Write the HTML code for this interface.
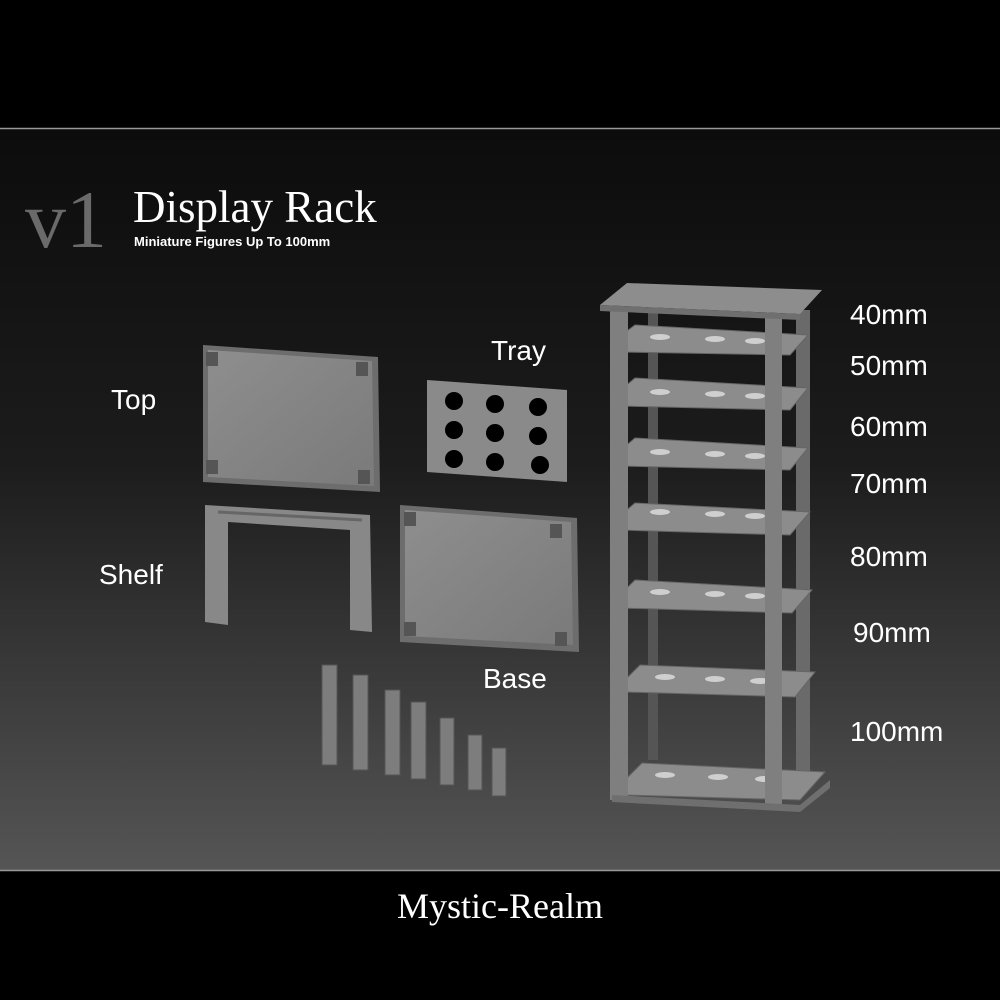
<!DOCTYPE html>
<html><head><meta charset="utf-8"><style>
html,body{margin:0;padding:0;background:#000;}
svg{display:block}
</style></head><body>
<svg width="1000" height="1000" viewBox="0 0 1000 1000" xmlns="http://www.w3.org/2000/svg">
<defs>
<linearGradient id="bg" x1="0" y1="0" x2="0" y2="1">
<stop offset="0" stop-color="#0c0c0c"/>
<stop offset="0.45" stop-color="#1c1c1c"/>
<stop offset="1" stop-color="#555"/>
</linearGradient>
<linearGradient id="pan" x1="0" y1="0" x2="1" y2="1">
<stop offset="0" stop-color="#8e8e8e"/>
<stop offset="1" stop-color="#7a7a7a"/>
</linearGradient>
</defs>
<rect width="1000" height="1000" fill="#000"/>
<rect x="0" y="129" width="1000" height="741" fill="url(#bg)"/>
<line x1="0" y1="128.5" x2="1000" y2="128.5" stroke="#999" stroke-width="1.5"/>
<line x1="0" y1="870.5" x2="1000" y2="870.5" stroke="#999" stroke-width="1.5"/>

<text x="25" y="247" font-family="Liberation Serif, serif" font-size="82" fill="#6a6a6a">v1</text>
<text x="133" y="222" font-family="Liberation Serif, serif" font-size="45" fill="#fff">Display Rack</text>
<text x="134" y="246" font-family="Liberation Sans, sans-serif" font-size="13" font-weight="bold" fill="#fff">Miniature Figures Up To 100mm</text>

<g font-family="Liberation Sans, sans-serif" font-size="28" fill="#fff">
<text x="111" y="409">Top</text>
<text x="491" y="360">Tray</text>
<text x="99" y="584">Shelf</text>
<text x="483" y="688">Base</text>
<text x="850" y="324">40mm</text>
<text x="850" y="375">50mm</text>
<text x="850" y="436">60mm</text>
<text x="850" y="493">70mm</text>
<text x="850" y="566">80mm</text>
<text x="853" y="642">90mm</text>
<text x="850" y="741">100mm</text>
</g>
<text x="500" y="918" text-anchor="middle" font-family="Liberation Serif, serif" font-size="36" fill="#fff">Mystic-Realm</text>

<!-- Top panel -->
<polygon points="203,345 378,357 380,492 203,482" fill="#6d6d6d"/>
<polygon points="208,350 372,361 374,486 208,477" fill="url(#pan)"/>
<g fill="#555"><rect x="206" y="352" width="12" height="14"/><rect x="356" y="362" width="12" height="14"/><rect x="206" y="460" width="12" height="14"/><rect x="358" y="470" width="12" height="14"/></g>

<!-- Tray -->
<polygon points="427,380 567,390 567,482 427,472" fill="#8a8a8a"/>
<g fill="#000">
<circle cx="454" cy="401" r="9"/><circle cx="495" cy="404" r="9"/><circle cx="538" cy="407" r="9"/>
<circle cx="454" cy="430" r="9"/><circle cx="495" cy="433" r="9"/><circle cx="538" cy="436" r="9"/>
<circle cx="454" cy="459" r="9"/><circle cx="495" cy="462" r="9"/><circle cx="540" cy="465" r="9"/>
</g>

<!-- Shelf frame -->
<path d="M205,505 L370,515 L372,632 L350,630 L350,530 L228,522 L228,625 L205,622 Z" fill="#888"/>
<path d="M218,512 L362,520" stroke="#666" stroke-width="3"/>

<!-- Base -->
<polygon points="400,505 577,518 579,652 400,642" fill="#6d6d6d"/>
<polygon points="405,510 571,522 573,645 405,636" fill="url(#pan)"/>
<g fill="#555"><rect x="404" y="512" width="12" height="14"/><rect x="550" y="524" width="12" height="14"/><rect x="404" y="622" width="12" height="14"/><rect x="555" y="632" width="12" height="14"/></g>

<!-- Posts -->
<g fill="#7d7d7d" stroke="#555" stroke-width="1">
<rect x="322" y="665" width="15" height="100"/>
<rect x="353" y="675" width="15" height="95"/>
<rect x="385" y="690" width="15" height="85"/>
<rect x="411" y="702" width="15" height="77"/>
<rect x="440" y="718" width="14" height="67"/>
<rect x="468" y="735" width="14" height="55"/>
<rect x="492" y="748" width="14" height="48"/>
</g>

<!-- Rack -->
<g>
<rect x="796" y="310" width="14" height="470" fill="#6a6a6a"/>
<rect x="648" y="300" width="10" height="460" fill="#555"/>
<g fill="#8c8c8c" stroke="#666">
<polygon points="615,340 635,325 808,335 790,355 620,352"/>
<polygon points="615,395 635,378 808,388 790,410 620,406"/>
<polygon points="615,455 635,438 808,448 790,470 620,466"/>
<polygon points="615,520 635,503 810,512 790,535 620,530"/>
<polygon points="615,600 635,580 812,590 792,613 620,608"/>
<polygon points="620,685 640,665 815,672 795,697 625,692"/>
<polygon points="620,785 642,763 825,772 800,800 625,795"/>
</g>
<g fill="#cfcfcf">
<ellipse cx="660" cy="337" rx="10" ry="3"/><ellipse cx="715" cy="339" rx="10" ry="3"/><ellipse cx="755" cy="341" rx="10" ry="3"/>
<ellipse cx="660" cy="392" rx="10" ry="3"/><ellipse cx="715" cy="394" rx="10" ry="3"/><ellipse cx="755" cy="396" rx="10" ry="3"/>
<ellipse cx="660" cy="452" rx="10" ry="3"/><ellipse cx="715" cy="454" rx="10" ry="3"/><ellipse cx="755" cy="456" rx="10" ry="3"/>
<ellipse cx="660" cy="512" rx="10" ry="3"/><ellipse cx="715" cy="514" rx="10" ry="3"/><ellipse cx="755" cy="516" rx="10" ry="3"/>
<ellipse cx="660" cy="592" rx="10" ry="3"/><ellipse cx="715" cy="594" rx="10" ry="3"/><ellipse cx="755" cy="596" rx="10" ry="3"/>
<ellipse cx="665" cy="677" rx="10" ry="3"/><ellipse cx="715" cy="679" rx="10" ry="3"/><ellipse cx="760" cy="681" rx="10" ry="3"/>
<ellipse cx="665" cy="775" rx="10" ry="3"/><ellipse cx="718" cy="777" rx="10" ry="3"/><ellipse cx="765" cy="779" rx="10" ry="3"/>
</g>
<rect x="610" y="308" width="18" height="492" fill="#7f7f7f"/>
<rect x="765" y="318" width="17" height="490" fill="#7f7f7f"/>
<polygon points="600,305 627,283 822,290 800,314" fill="#8d8d8d"/>
<polygon points="600,305 800,314 800,320 600,311" fill="#6f6f6f"/>
<polygon points="612,795 800,805 830,780 830,788 800,812 612,802" fill="#6f6f6f"/>
</g>
</svg>
</body></html>
